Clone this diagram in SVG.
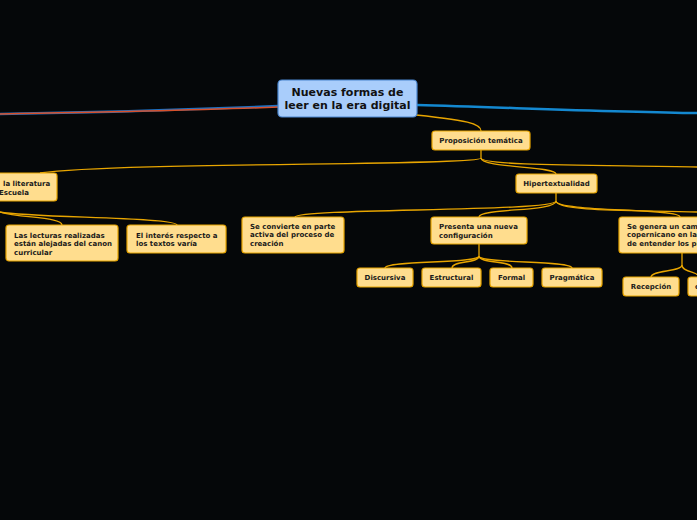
<svg xmlns="http://www.w3.org/2000/svg" width="697" height="520" viewBox="0 0 697 520">
<style>
.n{fill:#ffdd8e;stroke:#e8a500;stroke-width:1.2}
.t{font-family:"DejaVu Sans",sans-serif;font-weight:bold;font-size:7px;fill:#1a1a1a}
.c{fill:none;stroke:#e8a500;stroke-width:1.3}
</style>
<rect width="697" height="520" fill="#050709"/>
<g id="connectors">
<path d="M278,106 C180,110 60,113 0,114" fill="none" stroke="#1e6fc0" stroke-width="2.5"/>
<path d="M278,107 C180,111 60,113 0,114" fill="none" stroke="#d8502a" stroke-width="1.5"/>
<path d="M417,105 C520,108 620,112 697,113" fill="none" stroke="#1488d0" stroke-width="2.5"/>
<path class="c" d="M405,114 C470,120 481,124 481,131"/>
<path class="c" d="M481,150 V158 C481,166 120,162 40,173"/>
<path class="c" d="M481,158 C481,166 600,165 697,167"/>
<path class="c" d="M481,158 C481,168 556,166 556,174"/>
<path class="c" d="M556,193 V201 C556,212 300,208 295,217"/>
<path class="c" d="M556,201 C556,212 479,208 479,217"/>
<path class="c" d="M556,201 C556,212 680,208 680,217"/>
<path class="c" d="M556,201 C556,212 640,210 697,212"/>
<path class="c" d="M479,244 V256 C479,264 385,260 385,268"/>
<path class="c" d="M479,256 C479,264 452,260 452,268"/>
<path class="c" d="M479,256 C479,264 512,260 512,268"/>
<path class="c" d="M479,256 C479,264 572,260 572,268"/>
<path class="c" d="M682,253 V265 C682,272 651,270 651,277"/>
<path class="c" d="M682,265 C682,272 697,272 697,275"/>
<path class="c" d="M0,212 C20,218 62,217 62,225"/>
<path class="c" d="M0,212 C30,218 177,217 177,225"/>
</g>
<g id="central"><rect x="278" y="80" width="139" height="37" rx="4" fill="#a9cdfb" stroke="#4a86d0" stroke-width="1.2"/>
<text x="347.5" y="96" text-anchor="middle" font-family="DejaVu Sans,sans-serif" font-weight="bold" font-size="11" fill="#111">Nuevas formas de</text>
<text x="347.5" y="109" text-anchor="middle" font-family="DejaVu Sans,sans-serif" font-weight="bold" font-size="11" fill="#111">leer en la era digital</text></g>
<g id="prop"><rect class="n" x="432" y="131" width="98" height="19" rx="3"/><text class="t" x="481" y="143" text-anchor="middle">Proposición temática</text></g>
<g id="lit"><rect class="n" x="-10" y="173" width="67" height="28" rx="3"/><text class="t" x="3" y="186">la literatura</text><text class="t" x="-1" y="195">Escuela</text></g>
<g id="lect"><rect class="n" x="6" y="225" width="112" height="36" rx="3"/><text class="t" x="14" y="238">Las lecturas realizadas</text><text class="t" x="14" y="246">están alejadas del canon</text><text class="t" x="14" y="255">curricular</text></g>
<g id="interes"><rect class="n" x="127" y="225" width="99" height="28" rx="3"/><text class="t" x="136" y="238">El interés respecto a</text><text class="t" x="136" y="246">los textos varía</text></g>
<g id="conv"><rect class="n" x="242" y="217" width="102" height="36" rx="3"/><text class="t" x="250" y="229">Se convierte en parte</text><text class="t" x="250" y="237">activa del proceso de</text><text class="t" x="250" y="246">creación</text></g>
<g id="hiper"><rect class="n" x="516" y="174" width="81" height="19" rx="3"/><text class="t" x="556.5" y="186" text-anchor="middle">Hipertextualidad</text></g>
<g id="pres"><rect class="n" x="431" y="217" width="96" height="27" rx="3"/><text class="t" x="439" y="229">Presenta una nueva</text><text class="t" x="439" y="238">configuración</text></g>
<g id="gen"><rect class="n" x="619" y="217" width="90" height="36" rx="3"/><text class="t" x="627" y="229">Se genera un cambio</text><text class="t" x="627" y="237">copernicano en la forma</text><text class="t" x="627" y="246">de entender los procesos</text></g>
<g id="disc"><rect class="n" x="357" y="268" width="56" height="19" rx="3"/><text class="t" x="385" y="280" text-anchor="middle">Discursiva</text></g>
<g id="estr"><rect class="n" x="422" y="268" width="59" height="19" rx="3"/><text class="t" x="451.5" y="280" text-anchor="middle">Estructural</text></g>
<g id="form"><rect class="n" x="490" y="268" width="43" height="19" rx="3"/><text class="t" x="511.5" y="280" text-anchor="middle">Formal</text></g>
<g id="prag"><rect class="n" x="542" y="268" width="60" height="19" rx="3"/><text class="t" x="572" y="280" text-anchor="middle">Pragmática</text></g>
<g id="rec"><rect class="n" x="623" y="277" width="56" height="19" rx="3"/><text class="t" x="651" y="289" text-anchor="middle">Recepción</text></g>
<g id="other"><rect class="n" x="688" y="277" width="40" height="19" rx="3"/><text class="t" x="695" y="289">c</text></g>
</svg>
